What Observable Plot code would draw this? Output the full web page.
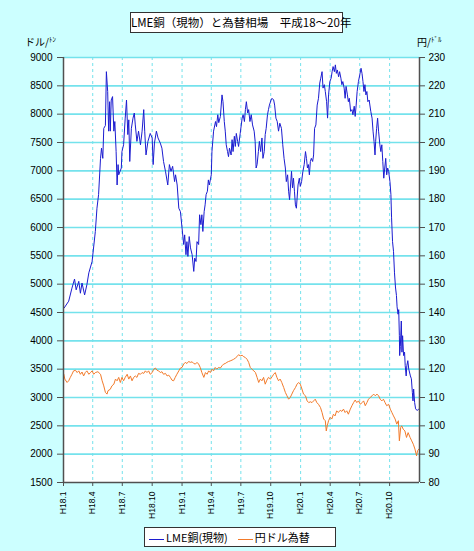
<!DOCTYPE html>
<html><head><meta charset="utf-8">
<script src="https://cdn.jsdelivr.net/npm/d3@7"></script>
<script src="https://cdn.jsdelivr.net/npm/@observablehq/plot@0.6"></script>
<style>
html,body{margin:0;padding:0;background:#ccffff;}
#wrap{position:relative;width:474px;height:551px;overflow:hidden;font-family:"Liberation Sans","Noto Sans CJK JP",sans-serif;color:#000;}
#chart{position:absolute;left:0;top:0;}
#title{position:absolute;left:130px;top:12px;width:213px;height:21px;box-sizing:border-box;border:1px solid #333;background:#fff;font-size:11.5px;line-height:19px;text-align:center;white-space:nowrap;font-family:"Noto Sans CJK JP",sans-serif;}
.unit{position:absolute;font-size:10px;white-space:nowrap;font-family:"Noto Sans CJK JP",sans-serif;}
.unit small{font-size:7px;vertical-align:4px;}
#legend{position:absolute;left:144px;top:527px;width:192px;height:20px;box-sizing:border-box;border:1px solid #333;background:#fff;font-size:11px;line-height:18px;white-space:nowrap;font-family:"Noto Sans CJK JP",sans-serif;}
#legend .sw{display:inline-block;width:15px;height:0;border-top:1.5px solid;vertical-align:middle;margin:0 2px 0 4px;}
</style></head>
<body><div id="wrap"><div id="chart"></div>
<div id="title"></div>
<div class="unit" id="uleft" style="left:25px;top:34px;"></div>
<div class="unit" id="uright" style="left:417px;top:34px;"></div>
<div id="legend"></div>
</div>
<script>
const titleText = "LME銅（現物）と為替相場　平成18～20年";
const leftUnit = ["ドル/", "ﾄﾝ"];
const rightUnit = ["円/", "ﾄﾞﾙ"];
const seriesNames = ["LME銅(現物)", "円ドル為替"];
const seriesColors = ["#1c1cd0", "#f27a2a"];

const xTickDates = ["2006-01-01","2006-04-01","2006-07-01","2006-10-01","2007-01-01","2007-04-01","2007-07-01","2007-10-01","2008-01-01","2008-04-01","2008-07-01","2008-10-01"];
const xTickLabels = ["H18.1","H18.4","H18.7","H18.10","H19.1","H19.4","H19.7","H19.10","H20.1","H20.4","H20.7","H20.10"];
const leftTicks = [1500,2000,2500,3000,3500,4000,4500,5000,5500,6000,6500,7000,7500,8000,8500,9000];
const rightTicks = [80,90,100,110,120,130,140,150,160,170,180,190,200,210,220,230];

const copperDates = [
"2006-01-03","2006-01-17","2006-01-27","2006-02-04","2006-02-09","2006-02-17","2006-02-22","2006-02-27","2006-03-07","2006-03-14",
"2006-03-20","2006-03-30","2006-04-09","2006-04-14","2006-04-19","2006-04-25","2006-04-28","2006-05-02","2006-05-05","2006-05-10",
"2006-05-13","2006-05-17","2006-05-20","2006-05-23","2006-05-25","2006-05-28","2006-06-01","2006-06-05","2006-06-08","2006-06-12",
"2006-06-15","2006-06-18","2006-06-20","2006-06-28","2006-06-30","2006-07-05","2006-07-10","2006-07-14","2006-07-18","2006-07-21",
"2006-07-24","2006-07-29","2006-08-03","2006-08-07","2006-08-10","2006-08-15","2006-08-20","2006-08-26","2006-08-31","2006-09-05",
"2006-09-08","2006-09-12","2006-09-18","2006-09-25","2006-10-01","2006-10-04","2006-10-08","2006-10-14","2006-10-19","2006-10-26",
"2006-10-31","2006-11-05","2006-11-11","2006-11-18","2006-11-23","2006-11-28","2006-12-03","2006-12-09","2006-12-12","2006-12-17",
"2006-12-22","2006-12-27",
"2007-01-01","2007-01-06","2007-01-09","2007-01-13","2007-01-16","2007-01-19","2007-01-23","2007-01-27","2007-02-01","2007-02-06",
"2007-02-09","2007-02-13","2007-02-16","2007-02-21","2007-02-24","2007-02-28","2007-03-03","2007-03-06","2007-03-10","2007-03-13",
"2007-03-16","2007-03-20","2007-03-23","2007-03-26","2007-04-01","2007-04-03","2007-04-08","2007-04-14","2007-04-17","2007-04-21",
"2007-04-24","2007-04-29","2007-05-04","2007-05-07","2007-05-11","2007-05-14","2007-05-17","2007-05-21","2007-05-24","2007-05-27",
"2007-06-01","2007-06-04","2007-06-07","2007-06-11","2007-06-14","2007-06-17","2007-06-21","2007-06-24","2007-06-29","2007-07-05",
"2007-07-08","2007-07-12","2007-07-15","2007-07-18","2007-07-22","2007-07-25","2007-07-29","2007-08-02","2007-08-06","2007-08-11",
"2007-08-14","2007-08-17","2007-08-20","2007-08-24","2007-08-27","2007-08-31","2007-09-04","2007-09-07","2007-09-11","2007-09-14",
"2007-09-17","2007-09-21","2007-09-24","2007-09-27","2007-10-02","2007-10-05","2007-10-10","2007-10-13","2007-10-17","2007-10-21",
"2007-10-25","2007-10-29","2007-11-03","2007-11-07","2007-11-11","2007-11-15","2007-11-18","2007-11-22","2007-11-25","2007-11-28",
"2007-12-01","2007-12-04","2007-12-07","2007-12-10","2007-12-13","2007-12-16","2007-12-19","2007-12-24","2007-12-28","2007-12-31",
"2008-01-04","2008-01-08","2008-01-12","2008-01-16","2008-01-19","2008-01-22","2008-01-25","2008-01-28","2008-01-31","2008-02-03",
"2008-02-07","2008-02-10","2008-02-13","2008-02-17","2008-02-21","2008-02-25","2008-02-29","2008-03-03","2008-03-07","2008-03-10",
"2008-03-14","2008-03-17","2008-03-21","2008-03-24","2008-03-27","2008-03-31","2008-04-04","2008-04-07","2008-04-10","2008-04-14",
"2008-04-17","2008-04-20","2008-04-23","2008-04-27","2008-04-30","2008-05-04","2008-05-07","2008-05-10","2008-05-14","2008-05-17",
"2008-05-20","2008-05-24","2008-05-27","2008-05-30","2008-06-03","2008-06-07","2008-06-10","2008-06-14","2008-06-17","2008-06-20",
"2008-06-23","2008-06-27","2008-07-01","2008-07-05","2008-07-08","2008-07-11","2008-07-14","2008-07-17","2008-07-20","2008-07-23",
"2008-07-26","2008-07-30","2008-08-04","2008-08-08","2008-08-11","2008-08-14","2008-08-17","2008-08-19","2008-08-22","2008-08-25",
"2008-08-28","2008-09-01","2008-09-04","2008-09-07","2008-09-10","2008-09-13","2008-09-16","2008-09-19","2008-09-22","2008-09-25",
"2008-09-28","2008-10-02","2008-10-05","2008-10-07","2008-10-10","2008-10-13","2008-10-16","2008-10-19","2008-10-22","2008-10-24",
"2008-10-27","2008-10-29","2008-10-31","2008-11-01","2008-11-03","2008-11-06","2008-11-08","2008-11-10","2008-11-13","2008-11-16",
"2008-11-18","2008-11-21","2008-11-23","2008-11-26","2008-11-29","2008-12-04","2008-12-07","2008-12-10","2008-12-12","2008-12-14",
"2008-12-17","2008-12-20","2008-12-25","2008-12-30"
];
const copperValues = [
4580,4700,4930,5090,4900,5050,4840,5020,4810,4990,
5200,5400,5930,6340,6580,7220,7400,7220,7750,7800,
8750,8400,7700,8220,7700,8250,8310,7700,7870,7340,
6750,7110,6930,7050,7340,7460,7930,8250,7640,7900,
7165,7750,7930,8020,7810,7520,7700,7460,7700,8080,
7700,7280,7520,7660,7580,7110,7490,7700,7580,7490,
7400,7165,6990,6750,7110,6990,7080,6810,6930,6750,
6340,6280,
5990,5700,5870,5520,5750,5490,5840,5640,5520,5225,
5460,5400,5750,5700,6225,6050,6225,5930,6280,6400,
6580,6640,6840,6750,6930,7340,7700,7870,7780,7990,
7850,7960,8340,8220,7870,7700,7460,7340,7250,7400,
7280,7550,7340,7610,7430,7660,7520,7430,7660,7930,
7990,7870,8080,8220,8020,8080,7870,7990,7810,7700,
7520,7050,7110,7340,7520,7340,7580,7220,7340,7640,
7750,7990,8080,8160,8250,8280,8250,8160,7930,7870,
7700,7840,7750,7460,7220,7050,6810,6930,6640,6490,
6750,6990,6700,6870,6640,6400,6340,6750,6870,6725,
6810,6990,7110,7340,7220,7050,7110,6930,7165,7220,
7165,7280,7750,7810,8160,8280,8550,8635,8750,8460,
8520,8400,8220,7930,8340,8575,8635,8750,8840,8750,
8870,8720,8780,8660,8750,8635,8520,8575,8460,8280,
8490,8340,8220,8280,8050,8080,7990,8140,7960,8160,
8400,8575,8690,8810,8720,8575,8400,8520,8340,8400,
8220,8250,8050,7930,7700,7520,7280,7520,7750,7930,
7700,7460,7340,7460,7165,6870,7050,7220,6930,7050,
6990,6810,6580,6170,5750,5580,5200,4950,4800,4600,
4470,4550,4090,3740,3900,4350,3800,4090,3740,3800,
3560,3380,3560,3650,3500,3380,3330,3090,2940,3150,
2910,2800,2770,2800
];

const yenDates = [
"2006-01-02","2006-01-05","2006-01-12","2006-01-17","2006-01-22","2006-01-27","2006-02-01","2006-02-07","2006-02-12","2006-02-17",
"2006-02-22","2006-02-27","2006-03-04","2006-03-09","2006-03-14","2006-03-20","2006-03-25","2006-03-30","2006-04-04","2006-04-09",
"2006-04-17","2006-04-25","2006-04-30","2006-05-05","2006-05-10","2006-05-15","2006-05-18","2006-05-25","2006-05-30","2006-06-05",
"2006-06-10","2006-06-15","2006-06-20","2006-06-25","2006-06-30","2006-07-05","2006-07-10","2006-07-16","2006-07-21","2006-07-26",
"2006-07-31","2006-08-05","2006-08-10","2006-08-15","2006-08-20","2006-08-26","2006-08-31","2006-09-05","2006-09-10","2006-09-15",
"2006-09-20","2006-09-25","2006-10-01","2006-10-06","2006-10-11","2006-10-16","2006-10-21","2006-10-26","2006-10-31","2006-11-05",
"2006-11-11","2006-11-16","2006-11-21","2006-11-26","2006-12-01","2006-12-06","2006-12-11","2006-12-16","2006-12-22","2006-12-27",
"2007-01-01","2007-01-06","2007-01-11","2007-01-16","2007-01-21","2007-01-27","2007-02-01","2007-02-06","2007-02-11","2007-02-16",
"2007-02-21","2007-02-26","2007-03-03","2007-03-09","2007-03-14","2007-03-19","2007-03-24","2007-03-29","2007-04-03","2007-04-08",
"2007-04-13","2007-04-18","2007-04-23","2007-04-29","2007-05-04","2007-05-09","2007-05-14","2007-05-19","2007-05-24","2007-05-29",
"2007-06-04","2007-06-09","2007-06-14","2007-06-19","2007-06-24","2007-06-29","2007-07-05","2007-07-10","2007-07-15","2007-07-20",
"2007-07-25","2007-07-30","2007-08-04","2007-08-10","2007-08-15","2007-08-20","2007-08-25","2007-08-30","2007-09-04","2007-09-09",
"2007-09-14","2007-09-19","2007-09-24","2007-09-30","2007-10-05","2007-10-10","2007-10-15","2007-10-20","2007-10-25","2007-10-30",
"2007-11-04","2007-11-10","2007-11-15","2007-11-20","2007-11-25","2007-11-30","2007-12-05","2007-12-10","2007-12-16","2007-12-21",
"2007-12-26","2007-12-31",
"2008-01-05","2008-01-10","2008-01-16","2008-01-21","2008-01-26","2008-01-31","2008-02-05","2008-02-10","2008-02-15","2008-02-20",
"2008-02-25","2008-03-02","2008-03-07","2008-03-12","2008-03-17","2008-03-20","2008-03-23","2008-03-27","2008-04-01","2008-04-06",
"2008-04-11","2008-04-16","2008-04-21","2008-04-26","2008-05-02","2008-05-07","2008-05-12","2008-05-17","2008-05-22","2008-05-27",
"2008-06-02","2008-06-07","2008-06-12","2008-06-17","2008-06-22","2008-06-27","2008-07-03","2008-07-08","2008-07-13","2008-07-18",
"2008-07-23","2008-07-28","2008-08-02","2008-08-08","2008-08-13","2008-08-18","2008-08-23","2008-08-28","2008-09-02","2008-09-07",
"2008-09-12","2008-09-17","2008-09-22","2008-09-28","2008-10-03","2008-10-08","2008-10-13","2008-10-18","2008-10-23","2008-10-28",
"2008-10-31","2008-11-04","2008-11-07","2008-11-12","2008-11-17","2008-11-22","2008-11-27","2008-12-03","2008-12-08","2008-12-13",
"2008-12-18","2008-12-23","2008-12-26","2008-12-30"
];
const yenValues = [
118.2,116.5,115.3,115.9,117.1,118.2,119.4,119.6,118.8,119.4,
118.2,119.0,117.6,118.8,119.4,118.2,118.8,119.4,118.2,118.8,
119.1,118.2,115.9,114.1,111.8,111.2,112.4,112.9,114.1,114.7,
116.5,115.9,117.1,115.3,117.1,115.9,117.1,118.2,116.5,117.6,
115.9,117.1,117.6,117.1,118.5,118.2,118.8,118.5,119.4,118.8,
119.4,118.2,118.8,120.0,120.4,119.6,119.4,118.8,119.1,118.2,
118.5,117.6,117.9,117.1,116.1,115.9,117.1,118.2,119.4,120.4,
120.6,121.8,122.4,122.0,122.7,122.4,122.6,122.0,121.8,122.4,
121.8,120.6,118.8,117.1,118.8,118.2,119.4,118.8,120.0,119.4,
120.6,120.0,120.6,120.4,121.2,121.8,122.0,122.4,122.7,122.9,
123.2,123.5,123.9,124.4,125.1,124.7,124.9,124.4,124.1,123.5,
122.4,120.6,120.0,119.4,118.8,117.1,115.3,116.5,115.9,117.1,
114.7,116.1,117.1,116.5,117.3,118.2,118.8,117.1,115.9,116.5,
115.3,113.5,111.8,110.6,109.4,110.0,111.2,112.4,113.5,114.7,
115.3,114.7,
113.0,111.2,110.6,108.8,108.2,108.5,108.2,108.8,109.4,108.2,
107.6,106.5,104.7,102.4,101.8,98.2,100.0,101.8,103.0,102.4,
104.1,103.5,105.3,104.7,105.5,105.1,105.9,104.7,105.3,104.1,
105.9,107.1,108.2,109.1,108.2,108.8,107.6,108.2,108.8,107.1,
108.2,109.4,110.0,110.6,111.2,110.6,111.2,110.6,109.4,108.8,
109.4,108.2,107.1,107.6,105.9,104.7,103.5,102.4,100.6,101.8,
94.7,99.4,100.0,98.8,98.2,95.9,97.6,95.9,94.7,93.5,
91.8,89.4,91.2,91.8
];

// right axis (yen) is drawn on the left (copper) scale: 80円 ↔ 1500, 230円 ↔ 9000
const yenToLeft = v => 1500 + (v - 80) * 50;
const copper = copperDates.map((d, i) => ({date: new Date(d), value: copperValues[i]}));
const yen = yenDates.map((d, i) => ({date: new Date(d), value: yenToLeft(yenValues[i])}));
const xTicks = xTickDates.map(d => new Date(d));
const labelOf = new Map(xTicks.map((d, i) => [+d, xTickLabels[i]]));

const gridColor = "#74e2ec";
const axisColor = "#505050";
const x0 = new Date("2006-01-01"), x1 = new Date("2009-01-01");

const chart = Plot.plot({
  width: 474, height: 551,
  marginTop: 57, marginBottom: 69, marginLeft: 63, marginRight: 55,
  style: {background: "transparent", fontFamily: "Liberation Sans, Noto Sans CJK JP, sans-serif", fontSize: "10px", color: "#000"},
  x: {type: "utc", domain: [x0, x1]},
  y: {domain: [1500, 9000]},
  marks: [
    Plot.frame({fill: "white", stroke: null}),
    Plot.gridY(leftTicks.slice(1), {stroke: gridColor, strokeOpacity: 1, strokeWidth: 1.6}),
    Plot.gridX(xTicks.slice(1), {stroke: gridColor, strokeOpacity: 1, strokeWidth: 1, strokeDasharray: "3,3"}),
    Plot.lineY(yen, {x: "date", y: "value", stroke: seriesColors[1], strokeWidth: 1}),
    Plot.lineY(copper, {x: "date", y: "value", stroke: seriesColors[0], strokeWidth: 1}),
    Plot.ruleX([x0, x1], {stroke: axisColor, strokeWidth: 1.5}),
    Plot.ruleY([1500], {stroke: axisColor, strokeWidth: 1.5}),
    Plot.axisY(leftTicks, {anchor: "left", tickSize: 6, tickPadding: 5, label: null, stroke: axisColor,
      tickFormat: d => String(d)}),
    Plot.axisY(leftTicks, {anchor: "right", tickSize: 5, tickPadding: 4, label: null, stroke: axisColor,
      tickFormat: d => String(rightTicks[leftTicks.indexOf(d)])}),
    Plot.axisX(xTicks, {anchor: "bottom", tickSize: 4, tickPadding: 5, tickRotate: -90, label: null, stroke: axisColor,
      fontSize: 8.5, tickFormat: d => labelOf.get(+d)})
  ]
});
document.getElementById("chart").appendChild(chart);

document.getElementById("title").textContent = titleText;
document.getElementById("uleft").innerHTML = leftUnit[0] + "<small>" + leftUnit[1] + "</small>";
document.getElementById("uright").innerHTML = rightUnit[0] + "<small>" + rightUnit[1] + "</small>";
document.getElementById("legend").innerHTML =
  '<span class="sw" style="border-color:' + seriesColors[0] + '"></span>' + seriesNames[0] +
  '<span class="sw" style="border-color:' + seriesColors[1] + ';margin-left:10px"></span>' + seriesNames[1];
</script>
</body></html>
